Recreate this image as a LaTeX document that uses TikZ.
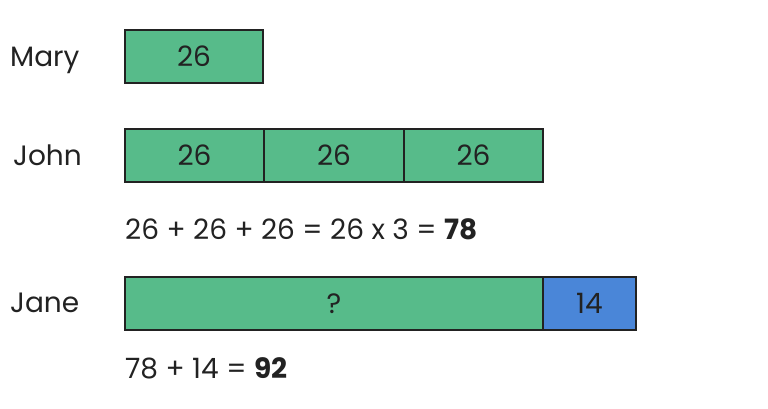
\documentclass[tikz,border=0pt]{standalone}
\usepackage{fontspec}
\setmainfont{Poppins}
\usetikzlibrary{positioning}
\definecolor{barGreen}{HTML}{57BB8A}
\definecolor{barBlue}{HTML}{4A86D8}
\definecolor{ink}{HTML}{222222}
\begin{document}
\begin{tikzpicture}[x=1pt,y=-1pt, node distance = 0pt,
  every node/.style={font=\fontsize{28}{32}\selectfont, text=ink},
  bar/.style={draw=ink, line width=1.2pt, fill=barGreen, minimum height=53pt, inner sep=0pt, outer sep=0pt},
  label text/.style={anchor=base west, inner sep=0pt}]
\useasboundingbox (0,0) rectangle (768,408);

\node[label text] (mary) at (10,66) {Mary};
\node[label text] (john) at (13,165) {John};
\node[label text] (jane) at (10,312) {Jane};

\node[bar, minimum width=138pt, anchor=north west] (m1) at (125,30) {26};

\node[bar, minimum width=139pt, anchor=north west] (j1) at (125,129) {26};
\node[bar, minimum width=140pt] (j2) [right=of j1] {26};
\node[bar, minimum width=139pt] (j3) [right=of j2] {26};

\node[label text] (sum1) at (125,239) {26 + 26 + 26 = 26 x 3 = \textbf{78}};

\node[bar, minimum width=418pt, anchor=north west] (q) at (125,277) {?};
\node[bar, minimum width=93pt, fill=barBlue] (b14) [right=of q] {14};

\node[label text] (sum2) at (125,378) {78 + 14 = \textbf{92}};
\end{tikzpicture}
\end{document}
